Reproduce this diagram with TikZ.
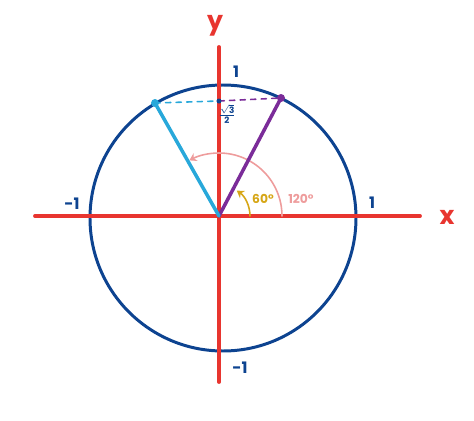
\documentclass[tikz,border=0pt]{standalone}
\usepackage{fontspec}
\setmainfont{Poppins}
\usetikzlibrary{arrows.meta}

\definecolor{axisred}{HTML}{E8352F}
\definecolor{circblue}{HTML}{0D4390}
\definecolor{lineblue}{HTML}{28A8DA}
\definecolor{linepurple}{HTML}{7B2C99}
\definecolor{arcpink}{HTML}{EE9C9C}
\definecolor{arcgold}{HTML}{D6A616}

\begin{document}
\begin{tikzpicture}[%
    x=0.02cm, y=0.02cm,         % one unit is one pixel of the sketch
    line cap=round,
    ]
% -------------------------------------------------
% Styles
\tikzset{
  axis/.style={draw=axisred, line width=2.2pt},
  unit/.style={draw=circblue, line width=1.7pt},
  side/.style={line width=2pt},
  proj/.style={dashed, line width=0.9pt},
  ang/.style={->, >={Stealth[length=4pt,width=5pt]}, line width=0.9pt},
  num/.style={font=\bfseries\small, text=circblue, inner sep=1pt},
  lbl/.style={font=\bfseries\Large, text=axisred, inner sep=1pt},
  deg/.style={font=\bfseries\scriptsize, inner sep=1pt}
}
\useasboundingbox (-219,-204) rectangle (255,216);
% -------------------------------------------------
% Points
\coordinate (O) at (0,0);
\coordinate (C) at (4,-2);
\coordinate (xl) at (-184,0);
\coordinate (xr) at (201,0);
\coordinate (yt) at (0,169);
\coordinate (yb) at (0,-166);
\coordinate (P60) at (62,118);
\coordinate (P120) at (-64,113);
\coordinate (Q) at (0,115);

% Unit circle (hand drawn, a little off the origin)
\draw[unit] (C) circle (133);

% Axes
\draw[axis] (xl) -- (xr);
\draw[axis] (yb) -- (yt);

% Angle arcs
\draw[ang, draw=arcpink] (63,0) arc (0:118:63);
\draw[ang, draw=arcgold] (31,0) arc (0:55:31);

% Sides and projections
\draw[side, draw=linepurple] (O) -- (P60);
\draw[side, draw=lineblue] (O) -- (P120);
\draw[proj, draw=lineblue] (P120) -- (Q);
\draw[proj, draw=linepurple] (Q) -- (P60);
\fill[circblue] (Q) circle (2.5);
\fill[lineblue] (P120) circle (4);
\fill[linepurple] (P60) circle (4);

% -------------------------------------------------
% Labels
\node[lbl] (xname) at (228,-1) {x};
\node[lbl] (yname) at (-4,190) {y};
\node[num] (ytop) at (17,144) {1};
\node[num] (ybot) at (21,-152) {-1};
\node[num] (xleft) at (-147,12) {-1};
\node[num] (xright) at (153,13) {1};
\node[num, font=\bfseries\scriptsize] (half) at (8,102) {$\mathbf{\frac{\sqrt{3}}{2}}$};
\node[deg, text=arcgold] (sixty) at (44,17) {60°};
\node[deg, text=arcpink] (onetwenty) at (82,17) {120°};
% -------------------------------------------------
\end{tikzpicture}
\end{document}
